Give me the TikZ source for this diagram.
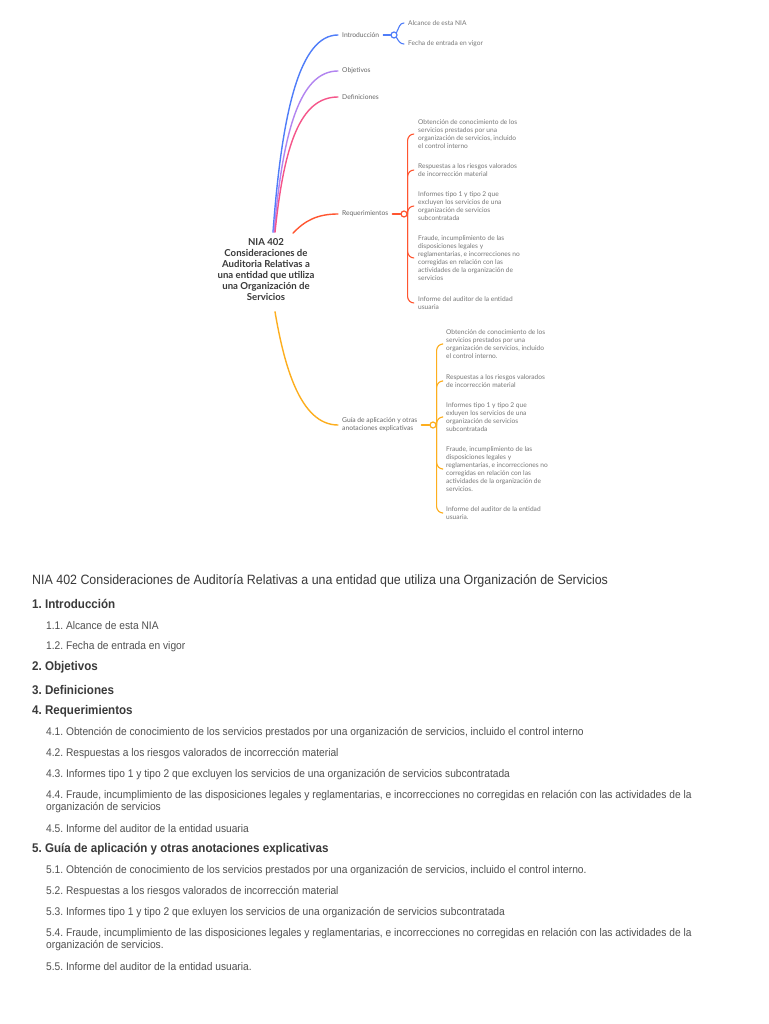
\documentclass[tikz,border=0pt]{standalone}
\usepackage{fontspec}
\setmainfont{Lato}
\newfontfamily\outl[FakeStretch=0.92]{Liberation Sans}
\pgfdeclarelayer{bg}
\pgfsetlayers{bg,main}
\definecolor{cblue}{HTML}{4F7DF9}
\definecolor{cpurp}{HTML}{B284F0}
\definecolor{cpink}{HTML}{F5558A}
\definecolor{cred}{HTML}{FF5530}
\definecolor{corg}{HTML}{FDAE1E}
\definecolor{tmap}{HTML}{666666}
\definecolor{tchild}{HTML}{777777}
\definecolor{thead}{HTML}{3A3A3A}
\definecolor{titem}{HTML}{505050}
\tikzset{
  rootbox/.style={align=center, font=\bfseries\fontsize{9.6}{11}\selectfont, text=thead, inner xsep=2pt, inner ysep=6.5pt},
  lvlone/.style={anchor=west, align=left, font=\fontsize{6.7}{8}\selectfont, text=tmap, inner xsep=4pt, inner ysep=1pt},
  leaf/.style={anchor=west, align=left, font=\fontsize{6.6}{8}\selectfont, text=tchild, inner xsep=4pt, inner ysep=1pt},
  hub/.style={circle, draw, fill=white, line width=1.2pt, minimum size=6pt, inner sep=0pt},
  branch/.style={line width=1.4pt, line cap=round},
  twig/.style={line width=1.1pt, rounded corners=6.5pt, line cap=round},
  ttl/.style={anchor=west, inner sep=0pt, font=\frenchspacing\outl\fontsize{13.5}{15}\selectfont, text=thead},
  hd/.style={anchor=west, inner sep=0pt, font=\frenchspacing\outl\bfseries\fontsize{12.6}{15}\selectfont, text=thead},
  itm/.style={anchor=west, inner sep=0pt, align=left, font=\frenchspacing\outl\fontsize{11.1}{12}\selectfont, text=titem}
}
\begin{document}
\begin{tikzpicture}[x=1pt, y=-1pt]
\useasboundingbox (0,0) rectangle (768,1024);
\begin{pgfonlayer}{bg}
\fill[white] (0,0) rectangle (768,1024);
\end{pgfonlayer}

% ---- mind map ----
\node[rootbox] (root) at (266,270) {NIA 402\\Consideraciones de\\Auditoria Relativas a\\una entidad que utiliza\\una Organización de\\Servicios};

\node[lvlone] (intro) at (338,35) {Introducción};
\node[lvlone] (obj) at (338,71) {Objetivos};
\node[lvlone] (def) at (338,97) {Definiciones};
\node[lvlone] (req) at (338,214) {Requerimientos};
\node[lvlone] (guia) at (338,425) {Guía de aplicación y otras\\anotaciones explicativas};

\node[hub, draw=cblue] (hI) at (394,35) {};
\node[hub, draw=cred] (hR) at (404,214) {};
\node[hub, draw=corg] (hO) at (433,425) {};

\node[leaf] (alc) at (404,23) {Alcance de esta NIA};
\node[leaf] (fec) at (404,44) {Fecha de entrada en vigor};

\node[leaf] (r1) at (414,134) {Obtención de conocimiento de los\\servicios prestados por una\\organización de servicios, incluido\\el control interno};
\node[leaf] (r2) at (414,170) {Respuestas a los riesgos valorados\\de incorrección material};
\node[leaf] (r3) at (414,206) {Informes tipo 1 y tipo 2 que\\excluyen los servicios de una\\organización de servicios\\subcontratada};
\node[leaf] (r4) at (414,258) {Fraude, incumplimiento de las\\disposiciones legales y\\reglamentarias, e incorrecciones no\\corregidas en relación con las\\actividades de la organización de\\servicios};
\node[leaf] (r5) at (414,303) {Informe del auditor de la entidad\\usuaria};

\node[leaf] (o1) at (442,344) {Obtención de conocimiento de los\\servicios prestados por una\\organización de servicios, incluido\\el control interno.};
\node[leaf] (o2) at (442,381) {Respuestas a los riesgos valorados\\de incorrección material};
\node[leaf] (o3) at (442,417) {Informes tipo 1 y tipo 2 que\\exluyen los servicios de una\\organización de servicios\\subcontratada};
\node[leaf] (o4) at (442,469) {Fraude, incumplimiento de las\\disposiciones legales y\\reglamentarias, e incorrecciones no\\corregidas en relación con las\\actividades de la organización de\\servicios.};
\node[leaf] (o5) at (442,513) {Informe del auditor de la entidad\\usuaria.};

\begin{pgfonlayer}{bg}
\draw[branch, cblue] ([xshift=7pt]root.north) .. controls +(9,-122) and +(-38,0) .. (intro.west);
\draw[branch, cpurp] ([xshift=8pt]root.north) .. controls +(9,-102) and +(-38,0) .. (obj.west);
\draw[branch, cpink] ([xshift=9pt]root.north) .. controls +(9,-87) and +(-38,0) .. (def.west);
\draw[branch, cred] ([xshift=27pt,yshift=-1pt]root.north) .. controls +(12,-13) and +(-20,0) .. (req.west);
\draw[branch, corg] ([xshift=9pt,yshift=-4pt]root.south) .. controls +(9,53) and +(-38,0) .. (guia.west);

\draw[branch, cblue] (intro.east) -- (hI.west);
\draw[twig, cblue] (hI.north east) to[out=60, in=180] (alc.west);
\draw[twig, cblue] (hI.south east) to[out=-60, in=180] (fec.west);

\draw[branch, cred] (req.east) -- (hR.west);
\foreach \c in {r1,r2,r3,r4,r5} \draw[twig, cred] (hR.east) |- (\c.west);

\draw[branch, corg] (guia.east) -- (hO.west);
\foreach \c in {o1,o2,o3,o4,o5} \draw[twig, corg] (hO.east) |- (\c.west);
\end{pgfonlayer}

% ---- outline ----
\node[ttl] (t0) at (32,581) {NIA 402 Consideraciones de Auditoría Relativas a una entidad que utiliza una Organización de Servicios};
\node[hd] (h1) at (32,604) {1. Introducción};
\node[itm] (i11) at (46,626) {1.1. Alcance de esta NIA};
\node[itm] (i12) at (46,647) {1.2. Fecha de entrada en vigor};
\node[hd] (h2) at (32,667) {2. Objetivos};
\node[hd] (h3) at (32,690) {3. Definiciones};
\node[hd] (h4) at (32,711) {4. Requerimientos};
\node[itm] (i41) at (46,733) {4.1. Obtención de conocimiento de los servicios prestados por una organización de servicios, incluido el control interno};
\node[itm] (i42) at (46,754) {4.2. Respuestas a los riesgos valorados de incorrección material};
\node[itm] (i43) at (46,775) {4.3. Informes tipo 1 y tipo 2 que excluyen los servicios de una organización de servicios subcontratada};
\node[itm] (i44) at (46,802) {4.4. Fraude, incumplimiento de las disposiciones legales y reglamentarias, e incorrecciones no corregidas en relación con las actividades de la\\organización de servicios};
\node[itm] (i45) at (46,829) {4.5. Informe del auditor de la entidad usuaria};
\node[hd] (h5) at (32,849) {5. Guía de aplicación y otras anotaciones explicativas};
\node[itm] (i51) at (46,871) {5.1. Obtención de conocimiento de los servicios prestados por una organización de servicios, incluido el control interno.};
\node[itm] (i52) at (46,892) {5.2. Respuestas a los riesgos valorados de incorrección material};
\node[itm] (i53) at (46,913) {5.3. Informes tipo 1 y tipo 2 que exluyen los servicios de una organización de servicios subcontratada};
\node[itm] (i54) at (46,940) {5.4. Fraude, incumplimiento de las disposiciones legales y reglamentarias, e incorrecciones no corregidas en relación con las actividades de la\\organización de servicios.};
\node[itm] (i55) at (46,967) {5.5. Informe del auditor de la entidad usuaria.};
\end{tikzpicture}
\end{document}
